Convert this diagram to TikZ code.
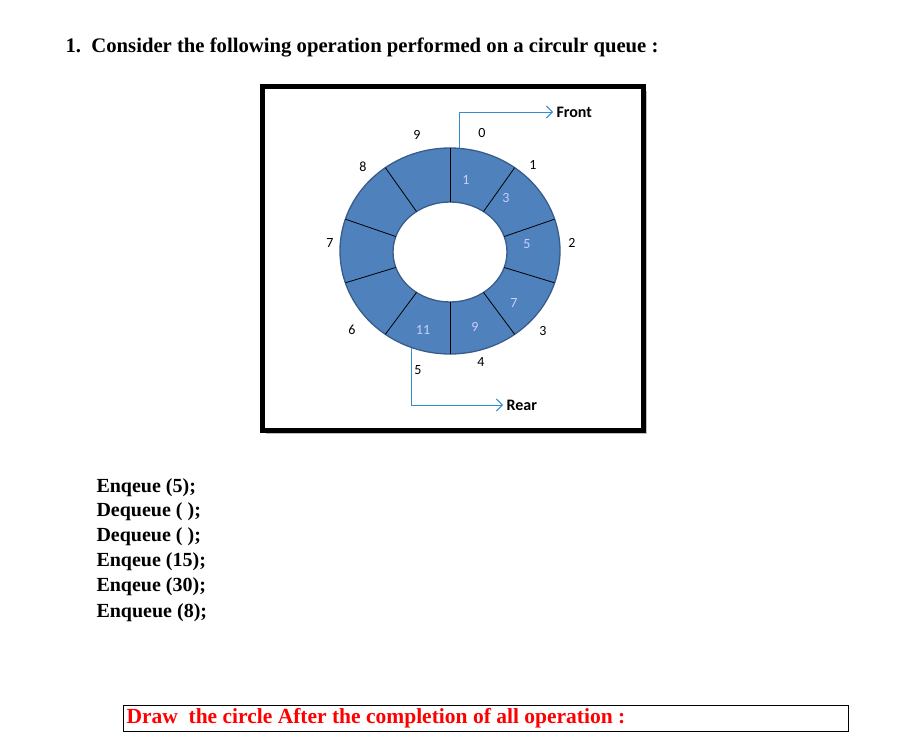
\documentclass[tikz,border=0pt]{standalone}
\usepackage{fontspec}
\usetikzlibrary{arrows.meta}
\setmainfont{Liberation Serif}
\newfontfamily\calfnt{Carlito}
\begin{document}
\begin{tikzpicture}[x=1pt,y=-1pt,
  idx/.style={font=\calfnt\fontsize{14}{14}\selectfont},
  val/.style={font=\calfnt\fontsize{14}{14}\selectfont,text=white!80!blue},
  ptr/.style={draw=blue!40!cyan!60!gray,line width=0.9pt,-{Straight Barb[length=6pt]}},
  ops/.style={anchor=west,font=\bfseries\fontsize{20}{20}\selectfont}]
\useasboundingbox[fill=white] (0,0) rectangle (897,738);
\node[anchor=west,font=\bfseries\fontsize{20.7}{22}\selectfont] (title) at (62,47) {1.\ \ Consider the following operation performed on a circulr queue :};
% frame
\fill[gray!50] (266,91) rectangle (647,434);
\draw[line width=5pt,fill=white] (262,87) rectangle (643,430);
% ring
\definecolor{ringfill}{HTML}{4F81BD}
\definecolor{ringedge}{HTML}{385D8A}
\fill[ringfill,even odd rule,draw=ringedge,line width=1.3pt] (450,251) ellipse [x radius=110,y radius=103] (450,252) ellipse [x radius=57,y radius=50];
\foreach \a in {90,54,18,-18,-54,-90,-126,-162,162,126}
  \draw[line width=0.8pt] ({450+57*cos(\a)},{252-50*sin(\a)}) -- ({450+110*cos(\a)},{251-103*sin(\a)});
\foreach \t/\x/\y [count=\i] in {9/417/135,0/482/133,1/533/165,2/572/243,3/543/331,4/481/362,5/418/370,6/352/330,7/330/243,8/363/167}
  \node[idx] (i\i) at (\x,\y) {\t};
\foreach \t/\x/\y [count=\i] in {1/466/180,3/506/198,5/527/244,7/514/303,9/475/327,11/423/330}
  \node[val] (v\i) at (\x,\y) {\t};
\coordinate (fs) at (459,148);
\coordinate (rs) at (411,348);
\node[anchor=west,font=\calfnt\bfseries\fontsize{16}{16}\selectfont] (front) at (553,112) {Front};
\node[anchor=west,font=\calfnt\bfseries\fontsize{16}{16}\selectfont] (rear) at (503,405) {Rear};
\draw[ptr] (fs) |- (front.west);
\draw[ptr] (rs) |- (rear.west);
% ops
\node[ops] (o1) at (93,488) {Enqeue (5);};
\node[ops] (o2) at (93,512) {Dequeue ( );};
\node[ops] (o3) at (93,537) {Dequeue ( );};
\node[ops] (o4) at (93,562) {Enqeue (15);};
\node[ops] (o5) at (93,587) {Enqeue (30);};
\node[ops] (o6) at (93,613) {Enqueue (8);};
\draw[line width=0.8pt] (123,705) rectangle (848,731);
\node[anchor=west,text=red,font=\bfseries\fontsize{21.5}{22}\selectfont] (draw) at (123,718) {Draw\ \ the circle After the completion of all operation :};
\end{tikzpicture}
\end{document}
